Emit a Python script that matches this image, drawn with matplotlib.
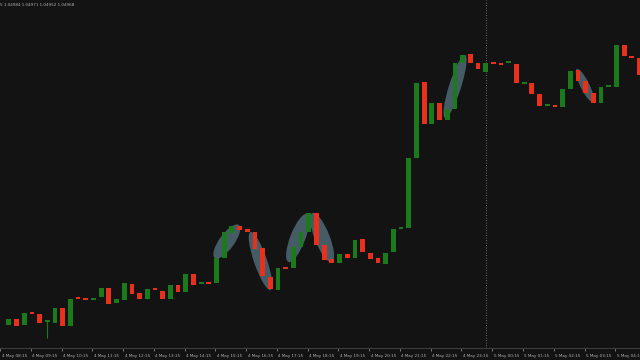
import math
import matplotlib
matplotlib.use("Agg")
import matplotlib.pyplot as plt
from matplotlib.patches import Ellipse
from matplotlib.transforms import IdentityTransform

# ---- data (EURUSD M15, 4 May 08:30 onwards) ----
opens = [1.04718, 1.04724, 1.04718, 1.04730, 1.04729, 1.04721, 1.04720, 1.04735, 1.04717, 1.04745,
         1.04744, 1.04743, 1.04746, 1.04755, 1.04740, 1.04743, 1.04759, 1.04750, 1.04744, 1.04755,
         1.04752, 1.04744, 1.04758, 1.04751, 1.04769, 1.04759, 1.04760, 1.04760, 1.04785, 1.04810,
         1.04817, 1.04814, 1.04811, 1.04795, 1.04766, 1.04753, 1.04775, 1.04775, 1.04796, 1.04811,
         1.04830, 1.04798, 1.04784, 1.04780, 1.04789, 1.04785, 1.04804, 1.04790, 1.04785, 1.04779,
         1.04791, 1.04814, 1.04815, 1.04885, 1.04961, 1.04919, 1.04940, 1.04923, 1.04934, 1.04980,
         1.04989, 1.04980, 1.04971, 1.04980, 1.04979, 1.04980, 1.04979, 1.04959, 1.04960, 1.04949,
         1.04937, 1.04937, 1.04936, 1.04954, 1.04973, 1.04962, 1.04950, 1.04940, 1.04956, 1.04956,
         1.04998, 1.04986, 1.04985]
closes = [1.04724, 1.04717, 1.04730, 1.04729, 1.04720, 1.04722, 1.04735, 1.04717, 1.04744, 1.04744,
          1.04743, 1.04744, 1.04755, 1.04739, 1.04744, 1.04760, 1.04749, 1.04744, 1.04754, 1.04753,
          1.04744, 1.04758, 1.04751, 1.04769, 1.04758, 1.04760, 1.04759, 1.04785, 1.04811, 1.04817,
          1.04813, 1.04811, 1.04794, 1.04767, 1.04754, 1.04775, 1.04774, 1.04796, 1.04811, 1.04830,
          1.04798, 1.04783, 1.04780, 1.04789, 1.04785, 1.04803, 1.04791, 1.04784, 1.04780, 1.04790,
          1.04814, 1.04815, 1.04885, 1.04960, 1.04919, 1.04940, 1.04923, 1.04934, 1.04980, 1.04988,
          1.04980, 1.04974, 1.04980, 1.04979, 1.04978, 1.04981, 1.04960, 1.04960, 1.04949, 1.04937,
          1.04938, 1.04936, 1.04954, 1.04972, 1.04962, 1.04950, 1.04940, 1.04956, 1.04957, 1.04998,
          1.04987, 1.04985, 1.04968]
wick_idx = [5]
wick_high = [1.04723]
wick_low = [1.04705]

tick_candles = list(range(-1, 80, 4))
tick_labels = ["4 May 08:15", "4 May 09:15", "4 May 10:15", "4 May 11:15", "4 May 12:15",
               "4 May 13:15", "4 May 14:15", "4 May 15:15", "4 May 16:15", "4 May 17:15",
               "4 May 18:15", "4 May 19:15", "4 May 20:15", "4 May 21:15", "4 May 22:15",
               "4 May 23:15", "5 May 00:15", "5 May 01:15", "5 May 02:15", "5 May 03:15",
               "5 May 04:15"]
day_sep_candle = 62
header = "5 1.04984 1.04971 1.04952 1.04968"

# ellipse objects: (start candle, start price, end candle, end price)
ell_start_x = [27.2, 31.8, 36.7, 39.8, 56.9, 73.9]
ell_start_p = [1.04785, 1.04811, 1.04781, 1.04830, 1.04925, 1.04974]
ell_end_x = [30.3, 34.4, 39.1, 42.3, 59.5, 76.0]
ell_end_p = [1.04818, 1.04753, 1.04829, 1.04781, 1.04988, 1.04941]
ell_minor = [15, 13, 15, 15, 12, 9]

# ---- style ----
BG = "#131313"
UP = "#1b7a1b"
DOWN = "#e8311d"
ELL = "#4e6874"

fig = plt.figure(figsize=(6.4, 3.6), dpi=100, facecolor=BG)
ax = fig.add_axes([0, 12 / 360, 1, 348 / 360])
ax.set_facecolor(BG)
px_per_candle = 7.75
xmin = -4 / px_per_candle
ax.set_xlim(xmin, xmin + 640 / px_per_candle)
ax.set_ylim(1.04695, 1.05043)

idx = list(range(len(opens)))
colors = [UP if c >= o else DOWN for o, c in zip(opens, closes)]
min_h = 0.000016
bottoms = [min(o, c) for o, c in zip(opens, closes)]
heights = [max(abs(c - o), min_h) for o, c in zip(opens, closes)]

# ellipses (in pixel space so they keep their shape)
fig.canvas.draw()
for sx, sp, ex, ep, mn in zip(ell_start_x, ell_start_p, ell_end_x, ell_end_p, ell_minor):
    p1 = ax.transData.transform((sx, sp))
    p2 = ax.transData.transform((ex, ep))
    cx, cy = (p1 + p2) / 2
    dx, dy = p2 - p1
    e = Ellipse((cx, cy), width=math.hypot(dx, dy), height=mn,
                angle=math.degrees(math.atan2(dy, dx)),
                transform=IdentityTransform(), facecolor=ELL, edgecolor="none",
                alpha=0.85, zorder=1)
    ax.add_artist(e)

ax.bar(idx, heights, bottom=bottoms, width=0.62, color=colors, linewidth=0, zorder=2)
ax.vlines(wick_idx, wick_low, wick_high, colors=[UP], linewidth=0.8, zorder=2)

ax.axvline(day_sep_candle, color="#8a8a8a", linestyle=(0, (1, 2)), linewidth=0.6, zorder=0)

for s in ["left", "right", "top"]:
    ax.spines[s].set_visible(False)
ax.spines["bottom"].set_color("#3c3c3c")
ax.spines["bottom"].set_linewidth(0.8)
ax.set_yticks([])
ax.set_xticks([t - 0.15 for t in tick_candles])
ax.set_xticklabels([])
ax.tick_params(axis="x", direction="out", length=2.5, width=0.6, color="#8a8a8a", pad=0)
for t, lab in zip(tick_candles, tick_labels):
    ax.annotate(lab, xy=(t - 0.15, 0), xycoords=("data", "axes fraction"),
                xytext=(1.5, -7.5), textcoords="offset pixels",
                ha="left", va="center", fontsize=3.0, color="#b0b0b0")

fig.text(0.0, 1 - 5 / 360, header, ha="left", va="center", fontsize=3.0, color="#b0b0b0")

fig.savefig("out.png", dpi=100, facecolor=BG)
